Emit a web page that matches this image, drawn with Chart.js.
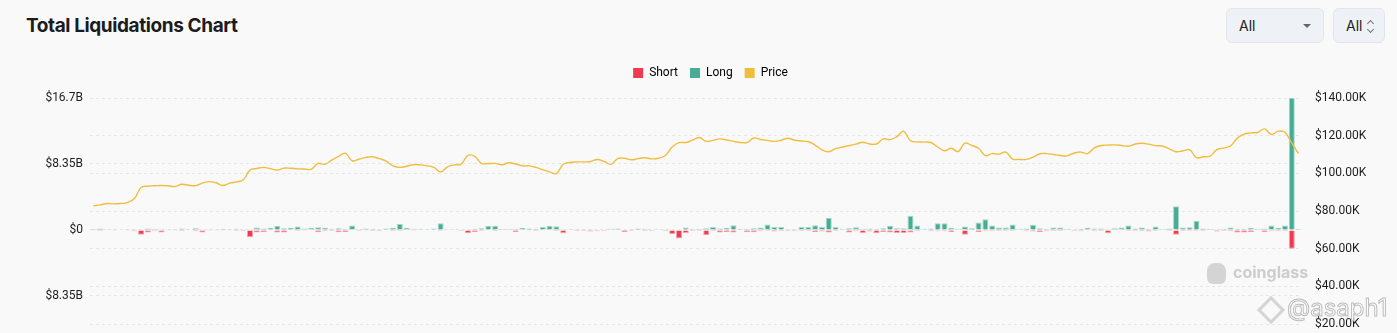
<!DOCTYPE html>
<html>
<head>
<meta charset="utf-8">
<title>Total Liquidations Chart</title>
<script src="https://cdn.jsdelivr.net/npm/chart.js@4.4.1/dist/chart.umd.min.js"></script>
<style>
    html, body { margin: 0; padding: 0; background: #f9f9f9; width: 1397px; height: 333px; overflow: hidden; }
    .title { position: absolute; left: 26px; top: 14px; font: 700 19px Inter, sans-serif; color: #1b1c20; letter-spacing: -0.4px; }
    .select { position: absolute; top: 8px; height: 35px; box-sizing: border-box; background: #eef1f5; border: 1px solid #e2e5ea; border-radius: 6px; font: 400 14px Inter, sans-serif; color: #222; }
    .select span { position: absolute; left: 12px; top: 8px; }
    .caret { position: absolute; right: 12px; top: 15px; width: 0; height: 0; border-left: 4px solid transparent; border-right: 4px solid transparent; border-top: 4px solid #666; }
    .updown { position: absolute; right: 9px; top: 10px; width: 8px; height: 14px; }
    .updown i { position: absolute; left: 1px; width: 4px; height: 4px; border-left: 1px solid #777; border-top: 1px solid #777; }
    .updown i.up { top: 2px; transform: rotate(45deg); }
    .updown i.dn { top: 8px; transform: rotate(225deg); }
    #wrap { position: absolute; left: 0; top: 0; width: 1397px; height: 382px; }
    .wm-cg { position: absolute; left: 1233px; top: 262px; font: 700 16px Inter, sans-serif; color: #cdcdcd; }
    .wm-icon { position: absolute; left: 1207px; top: 263px; width: 19px; height: 21px; background: #d4d4d4; border-radius: 8px 8px 6px 6px; }
    .wm-bn { position: absolute; left: 1261px; top: 300px; width: 14px; height: 14px; border: 3px solid #d4d4d4; transform: rotate(45deg); background: #f9f9f9; }
    .wm-at { position: absolute; left: 1287px; top: 293px; font: 400 24px Inter, sans-serif; color: #ffffff; -webkit-text-stroke: 1px #bdbdbd; }
</style>
</head>
<body>
<div class="title">Total Liquidations Chart</div>
<div class="select" style="left:1226px;width:98px"><span>All</span><div class="caret"></div></div>
<div class="select" style="left:1333px;width:52px"><span>All</span><div class="updown"><i class="up"></i><i class="dn"></i></div></div>
<div id="wrap"><canvas id="liqChart"></canvas></div>
<div class="wm-icon"></div>
<div class="wm-cg">coinglass</div>
<div class="wm-bn"></div>
<div class="wm-at">@asaph1</div>
<script>
    // --- Colors ---
    const COLORS = {
        long: '#46ad94',
        longEdge: 'rgba(70, 173, 148, 0.45)',
        short: '#f03a50',
        shortEdge: 'rgba(240, 58, 80, 0.45)',
        price: '#f0bd3f',
        grid: '#e6e6e6',
        tick: '#1d1d1d'
    };

    // daily buckets, first one is 2025-04-17
    const startDate = '2025-04-17';
    const dayCount = 178;

    // long liquidations, $B (plotted up)
    const longLiq = [
        0.13, 0.17, 0.09, 0.09, 0.04, 0.09, 0.09, 0.04, 0.17, 0.13,
        0.09, 0.09, 0.09, 0.17, 0.09, 0.21, 0.04, 0.09, 0.09, 0.13,
        0.09, 0.13, 0.04, 0.04, 0.30, 0.17, 0.26, 0.51, 0.21, 0.26,
        0.43, 0.17, 0.26, 0.34, 0.26, 0.13, 0.21, 0.13, 0.55, 0.09,
        0.17, 0.13, 0.09, 0.17, 0.26, 0.77, 0.26, 0.13, 0.13, 0.09,
        0.17, 0.85, 0.09, 0.09, 0.04, 0.04, 0.13, 0.21, 0.51, 0.51,
        0.13, 0.13, 0.13, 0.26, 0.17, 0.13, 0.38, 0.51, 0.47, 0.09,
        0.09, 0.09, 0.09, 0.09, 0.04, 0.09, 0.13, 0.17, 0.04, 0.09,
        0.17, 0.13, 0.04, 0.09, 0.09, 0.04, 0.04, 0.30, 0.13, 0.13,
        0.21, 0.38, 0.17, 0.26, 0.60, 0.13, 0.13, 0.21, 0.30, 0.68,
        0.38, 0.38, 0.09, 0.09, 0.38, 0.38, 0.60, 0.38, 1.53, 0.38,
        0.13, 0.21, 0.34, 0.13, 0.17, 0.13, 0.21, 0.51, 0.21, 0.21,
        1.79, 0.55, 0.13, 0.17, 0.85, 0.85, 0.26, 0.13, 0.43, 0.21,
        0.94, 1.36, 0.55, 0.30, 0.30, 0.68, 0.13, 0.17, 0.64, 0.21,
        0.13, 0.30, 0.30, 0.13, 0.09, 0.13, 0.26, 0.17, 0.17, 0.09,
        0.21, 0.30, 0.55, 0.17, 0.30, 0.13, 0.43, 0.13, 0.17, 2.98,
        0.30, 0.34, 1.15, 0.17, 0.13, 0.09, 0.13, 0.30, 0.13, 0.13,
        0.26, 0.13, 0.17, 0.55, 0.26, 0.55, 16.7, 0.13
    ];

    // short liquidations, $B (plotted down, so stored negative)
    const shortLiq = [
        -0.04, -0.13, -0.09, -0.04, -0.09, -0.04, -0.17, -0.60, -0.34, -0.17,
        -0.34, -0.04, -0.04, -0.13, -0.09, -0.17, -0.34, -0.04, -0.04, -0.04,
        -0.04, -0.13, -0.13, -0.94, -0.34, -0.30, -0.09, -0.34, -0.34, -0.09,
        -0.13, -0.04, -0.09, -0.30, -0.17, -0.13, -0.30, -0.26, -0.09, -0.13,
        -0.04, -0.13, -0.17, -0.09, -0.13, -0.13, -0.09, -0.04, -0.09, -0.09,
        -0.09, -0.13, -0.09, -0.09, -0.13, -0.43, -0.26, -0.13, -0.09, -0.13,
        -0.09, -0.09, -0.26, -0.09, -0.04, -0.13, -0.09, -0.09, -0.13, -0.43,
        -0.09, -0.13, -0.13, -0.21, -0.17, -0.13, -0.09, -0.09, -0.26, -0.13,
        -0.09, -0.13, -0.13, -0.09, -0.13, -0.51, -1.10, -0.38, -0.13, -0.13,
        -0.68, -0.13, -0.34, -0.26, -0.34, -0.09, -0.30, -0.30, -0.17, -0.13,
        -0.21, -0.13, -0.13, -0.17, -0.13, -0.13, -0.26, -0.21, -0.34, -0.13,
        -0.09, -0.34, -0.13, -0.38, -0.21, -0.43, -0.26, -0.34, -0.38, -0.38,
        -0.34, -0.17, -0.09, -0.17, -0.17, -0.17, -0.26, -0.09, -0.60, -0.09,
        -0.26, -0.17, -0.17, -0.13, -0.13, -0.13, -0.09, -0.17, -0.21, -0.26,
        -0.17, -0.13, -0.13, -0.09, -0.13, -0.17, -0.09, -0.13, -0.13, -0.43,
        -0.09, -0.09, -0.13, -0.13, -0.17, -0.21, -0.13, -0.09, -0.13, -0.60,
        -0.13, -0.13, -0.13, -0.13, -0.09, -0.21, -0.13, -0.17, -0.34, -0.34,
        -0.26, -0.09, -0.26, -0.17, -0.17, -0.13, -2.38, -0.09
    ];

    // BTC price, $K
    const price = [
        82.8, 83.3, 84.0, 83.8, 84.0, 84.5, 86.5, 92.5, 93.2, 93.4,
        93.6, 93.4, 93.0, 94.2, 93.7, 93.5, 94.8, 95.6, 95.0, 93.6,
        94.8, 95.5, 96.5, 101.8, 102.6, 103.2, 102.5, 101.8, 102.8, 102.7,
        102.4, 102.3, 102.2, 105.3, 104.8, 107.0, 109.0, 110.6, 106.7, 107.5,
        108.5, 108.8, 107.8, 106.5, 104.0, 103.2, 103.8, 104.6, 104.5, 104.0,
        103.2, 100.8, 103.5, 104.5, 104.9, 109.5, 109.0, 105.3, 105.2, 105.3,
        104.6, 105.6, 105.0, 104.0, 104.0, 103.2, 101.9, 100.8, 99.9, 104.8,
        105.8, 106.1, 106.1, 106.3, 107.4, 106.3, 104.8, 107.8, 108.0, 107.2,
        107.8, 108.3, 107.7, 108.0, 109.5, 114.0, 116.3, 116.4, 117.6, 119.0,
        117.0, 117.5, 118.3, 117.7, 117.0, 116.4, 116.4, 118.8, 118.0, 117.5,
        117.0, 117.6, 118.6, 117.6, 117.2, 116.8, 115.0, 112.5, 111.5, 113.1,
        114.0, 114.7, 115.5, 116.5, 115.6, 115.6, 118.3, 117.9, 119.5, 122.3,
        117.3, 116.7, 116.6, 116.4, 114.0, 112.0, 113.3, 111.6, 116.0, 114.8,
        113.3, 109.4, 110.5, 110.2, 111.3, 107.6, 107.4, 107.4, 108.6, 110.4,
        110.5, 110.0, 109.5, 109.3, 110.7, 111.3, 110.5, 113.5, 114.8, 115.0,
        115.1, 114.8, 114.4, 115.6, 116.0, 115.5, 114.7, 114.5, 113.0, 111.5,
        111.9, 112.5, 108.3, 108.8, 109.1, 112.6, 113.4, 114.5, 118.7, 120.8,
        121.5, 121.7, 123.6, 120.6, 122.4, 121.8, 116.0, 110.5
    ];

    const leftTicks = [-16.7, -8.35, 0, 8.35, 16.7];
    const rightTicks = [0, 20, 40, 60, 80, 100, 120, 140];

    function buildDates(start, count) {
        const out = [];
        const d = new Date(start + 'T00:00:00Z');
        for (let i = 0; i < count; i++) {
            out.push(d.toISOString().slice(0, 10));
            d.setUTCDate(d.getUTCDate() + 1);
        }
        return out;
    }
    const categories = buildDates(startDate, dayCount);

    const tickFont = { family: 'Roboto, sans-serif', size: 12 };

    // more room under the legend row, and nudge the row a little to the right
    const legendTweak = {
        id: 'legendTweak',
        beforeInit(chart) {
            const legend = chart.legend;
            const fit = legend.fit;
            legend.fit = function () {
                fit.call(this);
                this.height += 9;
            };
            const draw = legend.draw;
            legend.draw = function () {
                this.left += 12; this.right += 12;
                draw.call(this);
                this.left -= 12; this.right -= 12;
            };
        }
    };

    new Chart(document.getElementById('liqChart'), {
        plugins: [legendTweak],
        data: {
            labels: categories,
            datasets: [
                {
                    type: 'bar', label: 'Short', data: shortLiq, yAxisID: 'y', stack: 'liq', order: 1,
                    backgroundColor: COLORS.short, borderColor: COLORS.shortEdge, borderWidth: 1
                },
                {
                    type: 'bar', label: 'Long', data: longLiq, yAxisID: 'y', stack: 'liq', order: 1,
                    backgroundColor: COLORS.long, borderColor: COLORS.longEdge, borderWidth: 1
                },
                {
                    type: 'line', label: 'Price', data: price, yAxisID: 'y1', order: 0,
                    borderColor: COLORS.price, backgroundColor: COLORS.price, borderWidth: 1.4,
                    pointRadius: 0, tension: 0.4
                }
            ]
        },
        options: {
            responsive: true,
            maintainAspectRatio: false,
            animation: false,
            layout: { padding: { top: 55, bottom: 2 } },
            datasets: { bar: { barPercentage: 0.88, categoryPercentage: 1 } },
            plugins: {
                legend: {
                    position: 'top',
                    labels: {
                        boxWidth: 10, boxHeight: 10, padding: 12, color: '#555',
                        font: { family: 'Roboto, sans-serif', size: 12 },
                        generateLabels: chart => chart.data.datasets.map((ds, i) => ({
                            text: ds.label, fillStyle: ds.backgroundColor, strokeStyle: ds.backgroundColor,
                            lineWidth: 0, datasetIndex: i, hidden: false
                        }))
                    }
                },
                tooltip: { enabled: false }
            },
            scales: {
                x: { display: false, stacked: true },
                y: {
                    position: 'left', stacked: true, min: -16.7, max: 16.7,
                    afterBuildTicks: scale => { scale.ticks = leftTicks.map(v => ({ value: v })); },
                    afterFit: scale => { scale.width = 90; },
                    border: { display: false, dash: [3, 3] },
                    grid: { color: COLORS.grid, drawTicks: false },
                    ticks: {
                        color: COLORS.tick, font: tickFont, padding: 7,
                        callback: v => v === 0 ? '$0' : '$' + Math.abs(v) + 'B'
                    }
                },
                y1: {
                    position: 'right', min: 0, max: 140,
                    afterBuildTicks: scale => { scale.ticks = rightTicks.map(v => ({ value: v })); },
                    afterFit: scale => { scale.width = 95; },
                    border: { display: false, dash: [3, 3] },
                    grid: { color: COLORS.grid, drawTicks: false },
                    ticks: {
                        color: COLORS.tick, font: tickFont, padding: 13,
                        callback: v => '$' + v.toFixed(2) + 'K'
                    }
                }
            }
        }
    });
</script>
</body>
</html>
